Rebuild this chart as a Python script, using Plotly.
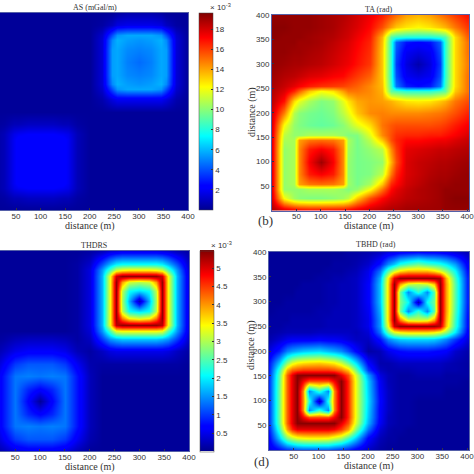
import numpy as np
import plotly.graph_objects as go

# grid coordinates (m) for each panel
AS_x = [0,25,45,55,75,100,125,145,155,175,200,225,245,255,275,300,325,345,355,375,400]
AS_y = [400,375,355,345,325,300,275,255,245,225,200,175,155,145,125,100,75,55,45,25,0]
TA_x = AS_x
TA_y = AS_y
THDRS_x = [0,25,50,75,100,125,150,175,200,225,240,254,266,280,300,320,333,345,358,375,400]
THDRS_y = [400,375,362,350,338,320,300,280,266,253,240,225,200,175,150,125,100,75,50,25,0]
TBHD_x = [0,20,36,46,57,68,80,100,120,132,146,160,175,200,225,240,252,264,280,300,320,333,345,358,375,400]
TBHD_y = [400,375,361,348,335,320,300,280,263,250,238,225,200,175,162,151,140,120,100,80,66,54,42,25,0]

# Values, as percent of each colour scale; rows top (y=400) to bottom (y=0)
AS_pct = [
[1,1,1,1,1,1,1,1,1,1,1,1,1,2,3,3,3,2,1,1,1],
[1,1,1,1,1,1,1,1,1,1,1,2,5,8,9,9,9,8,5,2,1],
[1,1,1,1,1,1,1,1,1,1,1,6,20,27,29,29,29,27,20,6,1],
[1,1,1,1,1,1,1,1,1,1,1,7,26,30,28,27,28,30,26,7,1],
[1,1,1,1,1,1,1,1,1,1,1,7,28,29,26,25,26,29,28,7,1],
[1,1,1,1,1,1,1,1,1,1,1,7,28,29,25,23,25,29,28,7,1],
[1,1,1,1,1,1,1,1,1,1,1,7,28,29,26,25,26,29,28,7,1],
[1,1,1,1,1,1,1,1,1,1,1,7,26,30,28,27,28,30,26,7,1],
[1,1,1,1,1,1,1,1,1,1,1,6,20,27,29,29,29,27,20,6,1],
[1,1,1,1,1,1,1,1,1,1,1,3,8,10,10,10,10,10,8,3,1],
[1,1,1,1,1,1,1,1,1,1,1,1,1,1,1,1,1,1,1,1,1],
[1,2,4,4,5,5,5,4,4,2,1,1,1,1,1,1,1,1,1,1,1],
[1,4,9,10,11,11,11,10,9,4,1,1,1,1,1,1,1,1,1,1,1],
[1,4,10,12,12,12,12,12,10,4,1,1,1,1,1,1,1,1,1,1,1],
[1,4,10,12,12,11,12,12,10,4,1,1,1,1,1,1,1,1,1,1,1],
[1,4,10,12,11,11,11,12,10,4,1,1,1,1,1,1,1,1,1,1,1],
[1,4,10,12,12,11,12,12,10,4,1,1,1,1,1,1,1,1,1,1,1],
[1,4,10,12,12,12,12,12,10,4,1,1,1,1,1,1,1,1,1,1,1],
[1,4,9,10,11,11,11,10,9,4,1,1,1,1,1,1,1,1,1,1,1],
[1,2,4,4,5,5,5,4,4,2,1,1,1,1,1,1,1,1,1,1,1],
[1,1,1,1,1,1,1,1,1,1,1,1,1,1,1,1,1,1,1,1,1],
]

TA_pct = [
[98,98,98,98,98,97,96,95,94,92,89,85,80,77,72,70,72,76,78,82,86],
[99,99,98,98,98,97,96,94,93,91,87,80,72,68,65,63,65,68,70,76,82],
[99,98,98,98,97,96,95,93,92,89,85,70,45,42,40,40,40,42,45,66,78],
[98,98,98,97,97,96,94,92,91,88,84,69,42,22,14,12,14,22,42,66,76],
[98,98,97,97,96,95,93,91,90,87,83,68,42,20,10,8,10,20,42,66,76],
[98,97,96,96,95,94,92,90,89,86,82,68,42,18,8,3,8,18,42,66,75],
[97,95,94,93,91,90,88,87,85,82,78,68,42,20,10,8,10,20,42,66,76],
[96,93,90,88,85,83,82,81,80,78,74,69,44,24,15,13,15,24,44,66,76],
[95,91,84,78,68,62,65,72,76,76,74,70,47,45,42,42,42,45,47,68,76],
[94,86,66,60,54,50,52,60,65,71,73,72,70,68,65,64,65,68,70,76,80],
[92,75,55,51,49,48,50,56,60,68,74,75,74,74,74,74,75,76,77,80,84],
[91,62,52,50,48,47,48,51,54,60,66,76,79,80,80,80,80,81,82,85,88],
[90,56,52,52,54,54,54,52,50,50,60,74,80,83,84,84,85,85,86,88,91],
[90,54,54,72,76,77,76,72,54,49,56,68,80,84,87,87,88,89,89,91,93],
[90,52,54,74,85,88,85,74,53,49,52,56,74,82,90,91,92,93,93,94,95],
[90,52,54,74,88,97,88,74,52,49,50,52,70,80,91,93,94,95,95,96,97],
[90,52,54,74,85,88,85,74,52,49,50,56,76,84,91,93,95,96,96,97,98],
[90,52,54,72,76,77,76,72,53,49,54,68,84,87,92,94,96,97,97,98,98],
[90,52,52,52,54,54,54,52,50,52,62,76,87,90,93,95,96,97,98,98,98],
[91,62,53,51,50,50,51,53,56,68,80,87,91,92,94,95,96,97,98,99,99],
[96,94,92,91,90,90,90,90,91,92,94,95,96,96,97,97,97,97,98,98,98],
]

THDRS_pct = [
[1,1,1,1,1,1,1,1,2,4,7,8,9,9,9,9,9,8,7,4,2],
[1,1,1,1,1,1,1,2,6,20,30,36,38,38,38,38,38,36,30,20,5],
[1,1,1,1,1,1,1,2,8,28,45,58,62,64,64,64,62,58,45,27,6],
[1,1,1,1,1,1,1,2,8,30,62,92,98,98,98,98,98,92,62,30,7],
[1,1,1,1,1,1,1,2,8,30,62,98,72,58,55,58,72,98,62,30,7],
[1,1,1,1,1,1,1,2,8,30,62,98,56,38,34,38,56,98,62,30,7],
[1,1,1,1,1,1,1,2,8,30,62,98,54,30,4,30,54,98,62,30,7],
[1,1,1,1,1,1,1,2,8,30,62,98,56,38,34,38,56,98,62,30,7],
[1,1,1,1,1,1,1,2,8,30,62,98,75,62,58,62,75,98,62,30,7],
[1,1,1,1,1,1,1,2,8,30,62,94,98,98,98,98,98,94,62,30,7],
[1,1,1,1,1,1,1,2,7,27,45,60,62,62,62,62,62,60,45,27,7],
[1,2,4,5,5,5,4,2,5,18,27,30,32,32,32,32,32,30,27,18,5],
[1,5,9,11,11,11,9,4,2,5,8,9,9,9,9,9,9,9,8,5,2],
[2,10,18,21,21,21,18,10,3,2,2,2,2,2,2,2,2,2,2,2,1],
[3,14,24,25,24,25,24,14,4,1,1,1,1,1,1,1,1,1,1,1,1],
[3,14,24,16,12,16,24,14,4,1,1,1,1,1,1,1,1,1,1,1,1],
[3,14,24,12,1,12,24,14,4,1,1,1,1,1,1,1,1,1,1,1,1],
[3,14,24,16,12,16,24,14,4,1,1,1,1,1,1,1,1,1,1,1,1],
[3,14,24,25,24,25,24,14,4,1,1,1,1,1,1,1,1,1,1,1,1],
[2,10,18,21,21,21,18,10,3,1,1,1,1,1,1,1,1,1,1,1,1],
[1,4,8,10,10,10,8,4,1,1,1,1,1,1,1,1,1,1,1,1,1],
]

TBHD_pct = [
[1,1,1,1,1,1,1,1,1,1,1,2,2, 3,5,8,9,11,12,13,12,12,11,10,7,4],
[1,1,1,1,1,1,1,1,1,2,2,2,3, 6,14,26,32,40,44,48,44,42,40,36,28,11],
[1,1,1,1,1,1,1,1,2,2,2,3,4, 9,24,46,58,66,70,70,70,66,60,52,38,14],
[1,1,1,1,1,1,1,2,2,3,3,4,5, 10,30,64,90,98,98,98,98,98,96,70,44,16],
[1,1,1,1,1,2,2,2,3,3,4,4,5, 11,32,66,98,72,58,55,58,68,98,72,46,16],
[1,1,1,1,2,2,2,2,3,3,4,4,5, 11,32,66,98,48,26,42,26,46,98,72,46,16],
[1,1,2,2,2,2,2,2,3,3,4,4,5, 11,32,66,98,50,38,4,38,48,98,72,46,16],
[1,2,2,2,2,2,2,3,3,4,4,4,5, 10,30,66,98,48,26,42,26,46,98,72,45,15],
[2,2,2,3,3,3,3,3,4,4,4,4,5, 9,28,66,98,76,60,58,60,72,98,70,43,14],
[2,2,3,3,3,3,3,3,4,4,4,4,5, 9,28,62,92,98,98,98,98,98,94,68,42,14],
[2,3,4,4,4,4,4,5,5,5,5,5,4, 7,24,48,60,64,66,66,66,64,60,52,36,12],
[3,6,9,10,10,10,10,11,10,10,9,7,5, 5,14,26,30,33,34,34,34,33,30,26,18,8],
[8,15,25,28,30,32,33,34,31,29,26,20,12, 2,4,9,11,13,14,14,14,13,12,11,6,3],
[14,32,52,60,64,66,67,68,66,64,58,48,35, 12,3,3,4,5,5,5,5,5,5,4,3,2],
[15,42,70,78,80,82,82,82,82,80,76,68,48, 18,5,3,3,3,3,4,4,4,4,3,3,2],
[16,46,78,90,99,99,99,99,99,99,90,80,58, 28,8,4,3,2,2,3,3,3,3,2,2,2],
[17,47,78,90,99,88,80,80,80,88,99,84,60, 32,10,4,3,2,2,2,2,2,2,2,2,1],
[17,48,78,90,99,74,26,42,26,74,99,84,60, 33,11,5,3,2,2,2,2,2,2,1,1,1],
[17,48,78,90,99,74,40,4,40,74,99,84,60, 34,12,5,3,2,2,1,1,1,1,1,1,1],
[17,48,78,90,99,74,26,42,26,74,99,84,60, 33,11,5,3,2,2,1,1,1,1,1,1,1],
[17,48,78,90,99,88,80,80,80,88,99,84,60, 32,11,4,3,2,2,1,1,1,1,1,1,1],
[17,47,78,90,99,99,99,99,99,99,90,80,58, 30,10,4,3,2,2,1,1,1,1,1,1,1],
[15,42,72,84,90,90,90,90,90,88,82,72,50, 24,7,3,2,2,1,1,1,1,1,1,1,1],
[12,32,50,56,60,62,63,63,62,58,54,44,32, 12,4,2,2,1,1,1,1,1,1,1,1,1],
[8,12,16,17,19,20,20,20,20,18,16,14,10, 5,2,1,1,1,1,1,1,1,1,1,1,1],
]

AS_max, THDRS_max = 19.6, 5.48
AS_ticks = [2,4,6,8,10,12,14,16,18]
THDRS_ticks = [0.5,1,1.5,2,2.5,3,3.5,4,4.5,5]
THDRS_labels = ["0.5","1","1.5","2","2.5","3","3.5","4","4.5","5"]
dist_ticks = [50,100,150,200,250,300,350,400]

W = 474
def px(v): return v / W
def py(v): return 1 - v / W

JET = [[0,"#00008f"],[0.11,"#0000ff"],[0.125,"#0000ff"],[0.375,"#00ffff"],[0.5,"#80ff80"],
       [0.625,"#ffff00"],[0.875,"#ff0000"],[1,"#800000"]]
SANS = "Liberation Sans"; SERIF = "Liberation Serif"

fig = go.Figure()
panels = [
 (AS_x, AS_y, AS_pct, 1, AS_max, dict(x=px(199), y=py(111.5), len=197/W, ticks=AS_ticks, labels=[str(t) for t in AS_ticks])),
 (TA_x, TA_y, TA_pct, 2, 100, None),
 (THDRS_x, THDRS_y, THDRS_pct, 3, THDRS_max, dict(x=px(200), y=py(351), len=200.5/W, ticks=THDRS_ticks, labels=THDRS_labels)),
 (TBHD_x, TBHD_y, TBHD_pct, 4, 100, None),
]
for gx, gy, grid, n, zmax, cb in panels:
    z = np.array(grid[::-1], dtype=float) / 100 * zmax
    kw = dict(showscale=False)
    if cb:
        kw = dict(showscale=True, colorbar=dict(
            x=cb["x"], xanchor="left", xpad=0, ypad=0, y=cb["y"], yanchor="middle", len=cb["len"], lenmode="fraction",
            thickness=13.5, thicknessmode="pixels", outlinewidth=0.5, outlinecolor="#444",
            tickmode="array", tickvals=cb["ticks"], ticktext=cb["labels"], ticks="inside", ticklen=2, tickcolor="#333",
            tickfont=dict(family=SANS, size=8, color="#333")))
    suffix = "" if n == 1 else str(n)
    fig.add_trace(go.Heatmap(x=gx, y=gy[::-1], z=z, zmin=0, zmax=zmax, colorscale=JET, zsmooth="best",
                             xaxis="x"+suffix, yaxis="y"+suffix, **kw))

def xax(dom, anchor, rng):
    return dict(domain=[px(dom[0]), px(dom[1])], anchor=anchor, range=rng, tickmode="array", tickvals=dist_ticks,
                ticks="inside", ticklen=2, tickcolor="#334", tickfont=dict(family=SANS, size=8, color="#333"),
                ticklabelstandoff=-2, ticklabeloverflow="allow",
                showline=True, linecolor="#5560a8", linewidth=1, mirror=True, showgrid=False, zeroline=False)
def yax(dom, anchor, show):
    return dict(domain=[py(dom[1]), py(dom[0])], anchor=anchor, range=[0,400], tickmode="array", tickvals=dist_ticks,
                ticks="inside" if show else "", ticklen=2, tickcolor="#334", showticklabels=show,
                tickfont=dict(family=SANS, size=8, color="#333"), ticklabeloverflow="allow",
                showline=True, linecolor="#5560a8", linewidth=1, mirror=True, showgrid=False, zeroline=False)

layout = dict(
    width=474, height=474, autosize=False, margin=dict(l=0,r=0,t=0,b=0,pad=0,autoexpand=False), paper_bgcolor="white", plot_bgcolor="white",
    xaxis=xax((0,188),"y",[17.4,400]), yaxis=yax((13,210),"x",False),
    xaxis2=xax((272,469),"y2",[0,404]), yaxis2=yax((15,210.5),"x2",True),
    xaxis3=xax((0,189),"y3",[19.5,400]), yaxis3=yax((251,451),"x3",False),
    xaxis4=xax((269,469),"y4",[0,404]), yaxis4=yax((252,450),"x4",True),
)
def note(x, y, text, font, size, angle=0):
    return dict(x=px(x), y=py(y), xref="paper", yref="paper", text=text, showarrow=False, xanchor="center", yanchor="middle",
                textangle=angle, font=dict(family=font, size=size, color="#333"))
layout["annotations"] = [
    note(95, 7, "AS (mGal/m)", SERIF, 8),
    note(378, 9.5, "TA (rad)", SERIF, 8),
    note(94, 245, "THDRS", SERIF, 8),
    note(376, 244, "TBHD (rad)", SERIF, 8),
    note(220, 7, "× 10<sup>-3</sup>", SANS, 8),
    note(221, 245, "× 10<sup>-3</sup>", SANS, 8),
    note(265, 221, "(b)", SERIF, 13),
    note(261, 461, "(d)", SERIF, 13),
    note(90, 226, "distance (m)", SERIF, 10),
    note(369, 226, "distance (m)", SERIF, 10),
    note(90, 467, "distance (m)", SERIF, 10),
    note(369, 465.5, "distance (m)", SERIF, 10),
    note(252, 112, "distance (m)", SERIF, 10, -90),
    note(251, 345, "distance (m)", SERIF, 10, -90),
]
fig.update_layout(**layout)
fig.write_html("out.html", post_script="document.body.style.margin='0';", config={"displayModeBar": False})
